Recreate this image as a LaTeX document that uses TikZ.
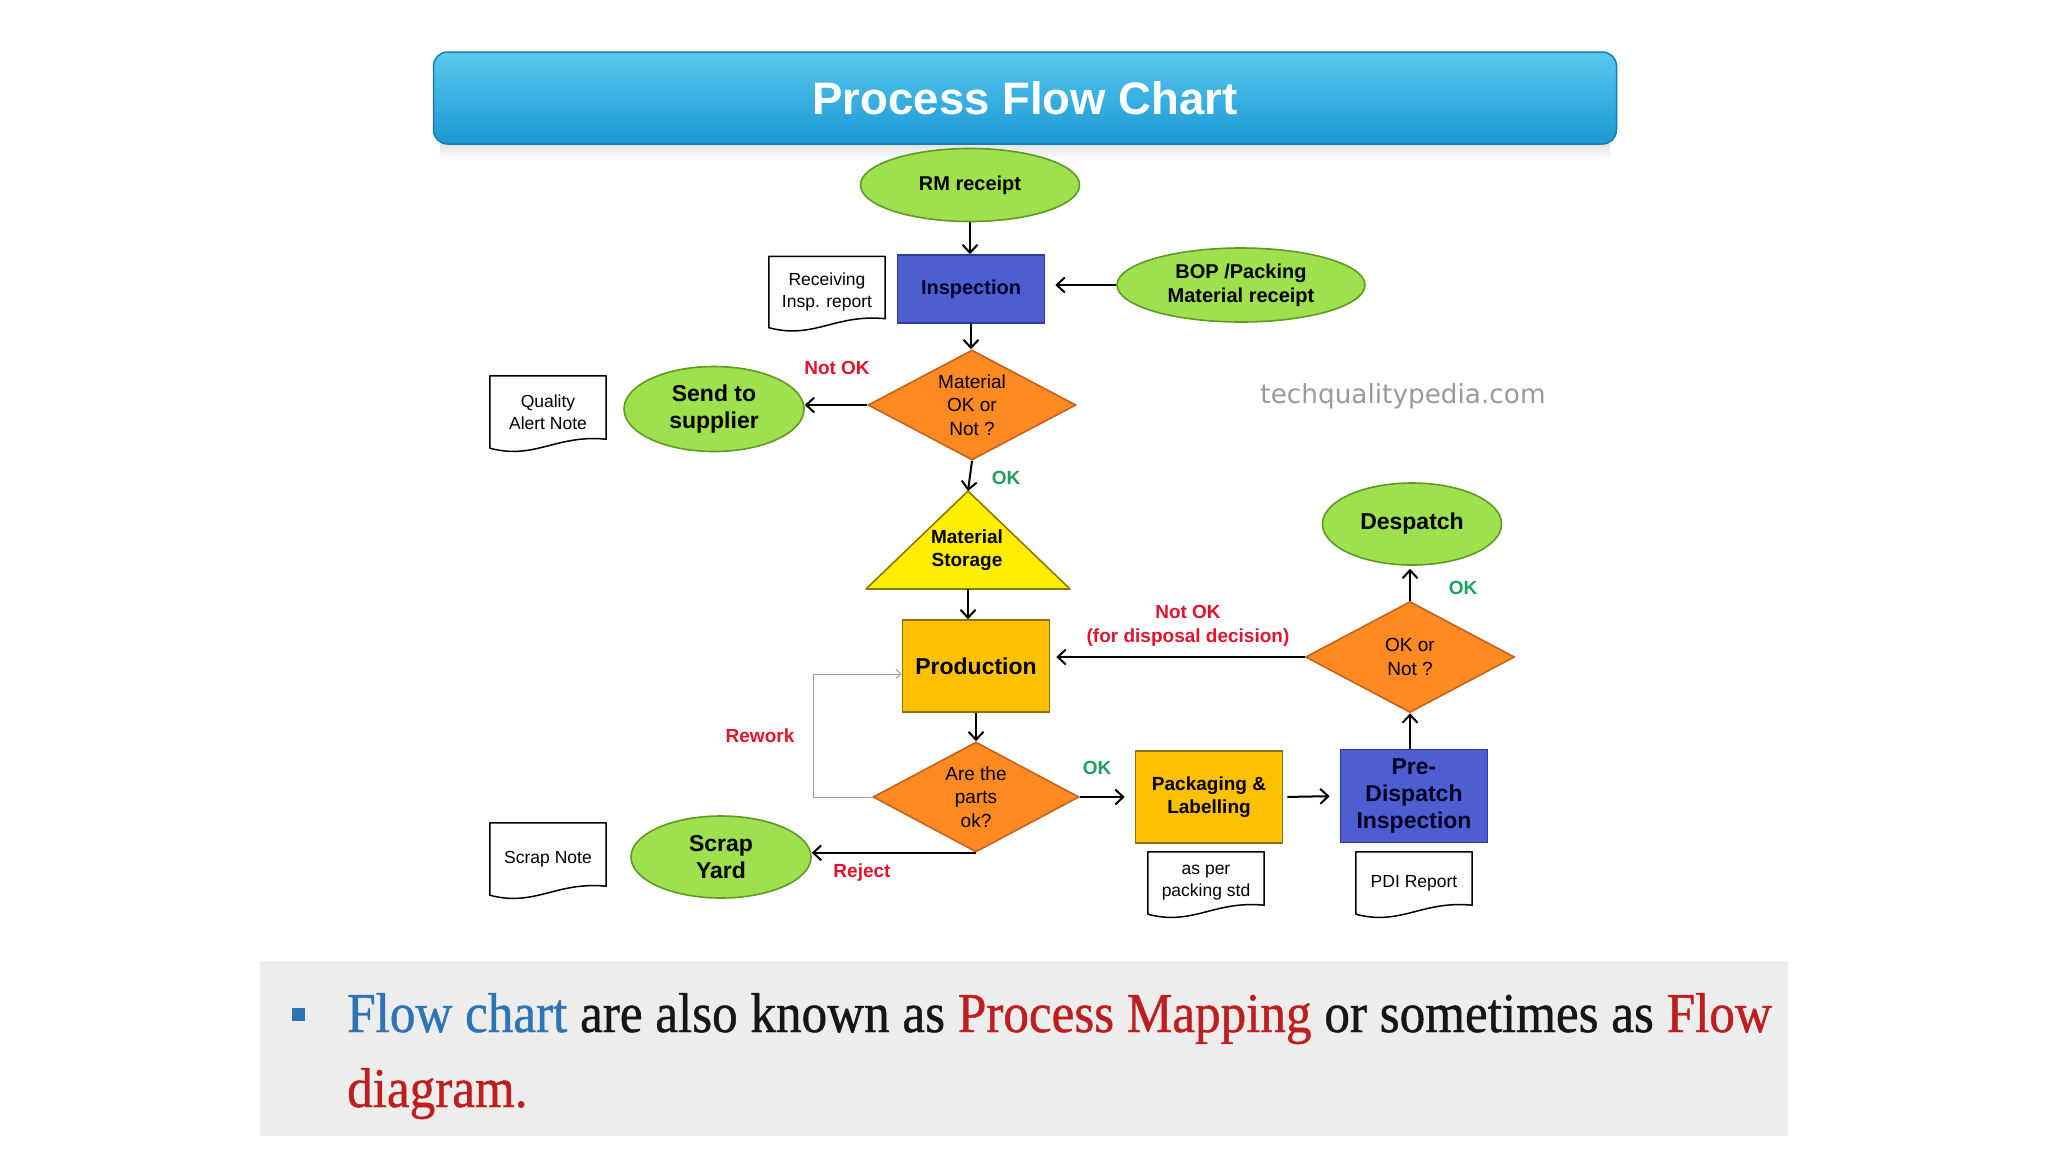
\documentclass[tikz,border=0pt]{standalone}
\usepackage{fontspec}
\setsansfont{Liberation Sans}
\newfontfamily\webfont{DejaVu Sans}
\newfontfamily\bandfont[FakeStretch=0.91,FakeBold=0.8]{Liberation Serif}
\usepackage{xcolor}
\usetikzlibrary{arrows.meta, shapes.geometric, calc}

\definecolor{ovalfill}{HTML}{9FE04E}
\definecolor{ovaledge}{HTML}{5E9A22}
\definecolor{boxblue}{HTML}{4D5FD0}
\definecolor{boxblueedge}{HTML}{2F3D99}
\definecolor{amber}{HTML}{FFC000}
\definecolor{amberedge}{HTML}{8F6E14}
\definecolor{decfill}{HTML}{FF8A22}
\definecolor{decedge}{HTML}{C4621A}
\definecolor{storfill}{HTML}{FFEE00}
\definecolor{storedge}{HTML}{8A7A00}
\definecolor{notokred}{HTML}{E2142B}
\definecolor{okgreen}{HTML}{1F9E5F}
\definecolor{bartop}{HTML}{58C8EF}
\definecolor{barbot}{HTML}{1B98D3}
\definecolor{baredge}{HTML}{177DB2}
\definecolor{bandgray}{HTML}{EDEDED}
\definecolor{bandblue}{HTML}{2E74B5}
\definecolor{bandred}{HTML}{BE1E1E}
\definecolor{bandblack}{HTML}{161616}
\definecolor{webgray}{HTML}{9A9A9A}

\newcommand{\docedge}[1]{%
  \draw[line width=1.5pt, line join=round] (#1.south west) -- (#1.north west) -- (#1.north east)
    -- ([yshift=9pt]#1.south east)
    .. controls ([xshift=-50pt,yshift=14pt]#1.south east) and ([xshift=45pt,yshift=-12pt]#1.south west) .. (#1.south west) -- cycle;}

\begin{document}
\begin{tikzpicture}[x=1pt, y=-1pt,
  b20/.style={font=\sffamily\bfseries\fontsize{20}{24}\selectfont},
  b19/.style={font=\sffamily\bfseries\fontsize{19}{23.5}\selectfont},
  b23/.style={font=\sffamily\bfseries\fontsize{23}{27.4}\selectfont},
  r19/.style={font=\sffamily\fontsize{19}{23.5}\selectfont},
  r17/.style={font=\sffamily\fontsize{17.5}{22}\selectfont},
  oval/.style={ellipse, draw=ovaledge, fill=ovalfill, line width=1.6pt, inner sep=0pt, align=center},
  bluebox/.style={rectangle, draw=boxblueedge, fill=boxblue, line width=1.6pt, inner sep=0pt, align=center, minimum width=147},
  amberbox/.style={rectangle, draw=amberedge, fill=amber, line width=1.6pt, inner sep=0pt, align=center, minimum width=147},
  decision/.style={diamond, aspect=2, draw=decedge, fill=decfill, line width=1.6pt, inner sep=0pt, align=center, r19},
  docnote/.style={rectangle, minimum width=116, inner sep=0pt, align=center, r17},
  flow/.style={-{Straight Barb[length=8pt,width=15pt]}, line width=2pt},
  redlbl/.style={b19, text=notokred, align=center},
  greenlbl/.style={b19, text=okgreen}]

  \useasboundingbox (0,0) rectangle (2048,1152);
  \fill[white] (0,0) rectangle (2048,1152);

  \shade[top color=gray!22, bottom color=white] (440,144) rectangle (1610,160);
  \node[rectangle, rounded corners=14pt, draw=baredge, line width=1.5pt, top color=bartop, bottom color=barbot,
    minimum width=1183, minimum height=92, text=white, font=\sffamily\bfseries\fontsize{45.5}{54}\selectfont]
    (title) at (1025,98) {Process Flow Chart};

  \node[oval, b20, minimum width=219, minimum height=73] (rm) at (970,185) {RM receipt};
  \node[bluebox, b20, minimum height=68, text=black!85!blue] (insp) at (971,289) {Inspection};
  \node[oval, b20, minimum width=248, minimum height=74] (bop) at (1241,285) {BOP /Packing\\Material receipt};
  \node[decision, minimum width=208, minimum height=110] (mat) at (972,405) {Material\\OK or\\Not ?};
  \node[oval, b23, minimum width=180, minimum height=85] (send) at (714,409) {Send to\\supplier};

  \node[docnote, minimum height=71] (rir) at (827,292) {Receiving\\Insp. report};
  \docedge{rir}
  \node[docnote, minimum height=72] (qan) at (548,412) {Quality\\Alert Note};
  \docedge{qan}

  \coordinate (stortop) at (968,491);
  \coordinate (storbase) at (968,589);
  \draw[line width=1.6pt, draw=storedge, fill=storfill, line join=round] (stortop) -- (866,589) -- (1070,589) -- cycle;
  \node[b19, align=center] (stor) at (967,550) {Material\\Storage};

  \node[amberbox, b23, minimum height=92] (prod) at (976,666) {Production};
  \node[decision, minimum width=209, minimum height=111] (okn) at (1410,657) {OK or\\Not ?};
  \node[oval, b23, minimum width=179, minimum height=82] (desp) at (1412,524) {Despatch};
  \node[decision, minimum width=206, minimum height=110] (parts) at (976,797) {Are the\\parts\\ok?};
  \node[amberbox, b19, minimum height=92] (pack) at (1209,797) {Packaging \&\\Labelling};
  \node[bluebox, b23, minimum height=93, text=black!85!blue] (pdi) at (1414,796) {Pre-\\Dispatch\\Inspection};
  \node[oval, b23, minimum width=180, minimum height=82] (scrap) at (721,857) {Scrap\\Yard};

  \node[docnote, minimum height=72] (snote) at (548,859) {Scrap Note};
  \docedge{snote}
  \node[docnote, minimum height=62] (pstd) at (1206,883) {as per\\packing std};
  \docedge{pstd}
  \node[docnote, minimum height=62] (pdir) at (1414,883) {PDI Report};
  \docedge{pdir}

  \draw[flow] (rm.south) -- (rm.south |- insp.north);
  \draw[flow, shorten >=10pt] (bop.west) -- (bop.west -| insp.east);
  \draw[flow] (insp.south) -- (insp.south |- mat.north);
  \draw[flow] (mat.west) -- (mat.west -| send.east);
  \draw[flow] (mat.south) -- (stortop);
  \draw[flow] (storbase) -- (storbase |- prod.north);
  \draw[flow] (prod.south) -- (parts.north);
  \draw[flow, shorten >=6pt] (okn.west) -- (okn.west -| prod.east);
  \draw[flow] (okn.south |- pdi.north) -- (okn.south);
  \draw[flow, shorten >=3pt] (okn.north) -- (okn.north |- desp.south);
  \draw[flow, shorten >=10pt] (parts.east) -- (pack.west);
  \draw[flow, shorten <=4pt, shorten >=10pt] (pack.east) -- (pdi.west);
  \draw[flow] (parts.south) -- (parts.south -| scrap.east);
  \draw[-{Straight Barb[length=5pt,width=9pt]}, line width=1pt, gray!75] (parts.west) -- ++(-59,0) |- ([yshift=-8pt]prod.west);

  \node[redlbl] (matno) at (837,368) {Not OK};
  \node[greenlbl] (matok) at (1006,478) {OK};
  \node[greenlbl] (despok) at (1463,588) {OK};
  \node[redlbl] (oknno) at (1188,626) {Not OK\\(for disposal decision)};
  \node[redlbl] (rework) at (760,736) {Rework};
  \node[greenlbl] (partsok) at (1097,768) {OK};
  \node[redlbl] (reject) at (862,873) {Reject};

  \node[font=\webfont\fontsize{26.3}{30}\selectfont, text=webgray] (web) at (1403,396) {techqualitypedia.com};

  \fill[bandgray] (260,961) rectangle (1788,1136);
  \fill[bandblue] (292,1008) rectangle (305,1021);
  \node[anchor=base west, inner sep=0pt, text=bandblack, font=\bandfont\fontsize{56.2}{75}\selectfont] (band1) at (347,1032)
    {\textcolor{bandblue}{Flow chart} are also known as \textcolor{bandred}{Process Mapping} or sometimes as \textcolor{bandred}{Flow}};
  \node[anchor=base west, inner sep=0pt, font=\bandfont\fontsize{56.2}{75}\selectfont] (band2) at (347,1107)
    {\textcolor{bandred}{diagram.}};
\end{tikzpicture}
\end{document}
